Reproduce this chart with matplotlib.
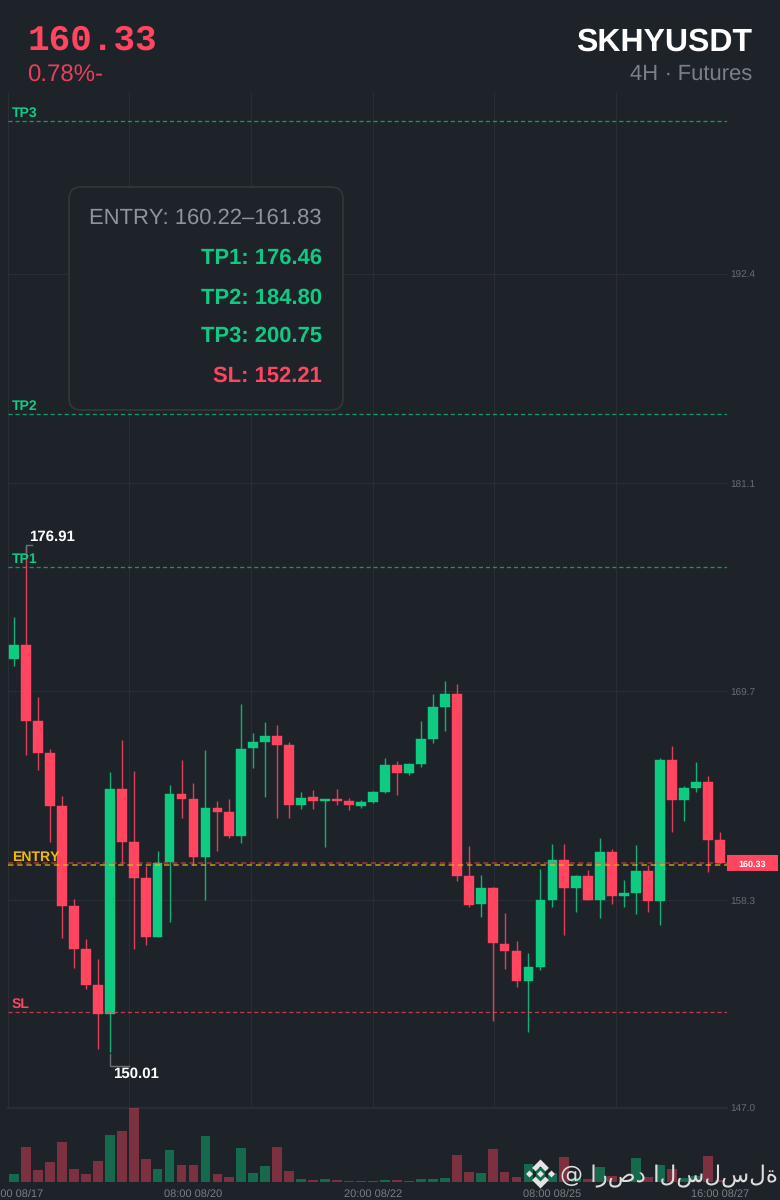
import matplotlib
matplotlib.use("Agg")
import matplotlib.pyplot as plt
from matplotlib.patches import FancyBboxPatch, Polygon, Rectangle

plt.rcParams['font.family'] = ['Liberation Sans', 'DejaVu Sans']
plt.rcParams['text.hinting'] = 'no_hinting'
plt.rcParams['text.hinting_factor'] = 1

# ---------- data ----------
opens = [171.44,172.20,168.07,166.32,163.44,158.00,155.66,153.70,152.12,164.37,
         161.48,159.52,156.31,160.39,164.09,163.82,160.66,163.33,163.11,161.81,
         166.60,166.92,167.25,166.76,163.49,163.93,163.71,163.82,163.71,163.44,
         163.66,164.20,165.67,165.24,165.73,167.09,168.83,169.54,159.63,158.10,
         158.98,155.93,155.55,153.91,154.68,158.32,160.50,158.98,159.63,158.32,
         160.94,158.54,158.70,159.90,158.27,165.94,163.77,164.42,164.75,161.59]
highs = [173.73,177.65,169.37,166.54,163.98,158.38,156.20,155.11,165.29,167.03,
         165.35,160.17,160.99,164.58,165.94,164.69,166.49,163.71,163.82,168.99,
         167.41,168.01,167.85,166.92,164.20,164.31,163.82,164.37,163.88,163.77,
         164.26,166.05,165.89,165.78,168.07,169.54,170.24,170.08,161.26,159.68,
         159.03,157.62,156.09,155.44,160.01,161.37,161.37,159.68,159.96,161.70,
         161.10,159.41,161.32,160.23,166.05,166.71,164.53,165.84,165.07,162.02]
lows = [171.06,166.22,165.40,161.48,156.25,154.62,153.48,150.21,150.05,160.34,
        155.66,155.87,156.31,157.13,162.79,160.23,158.32,160.99,161.70,161.43,
        165.51,163.93,162.79,162.79,163.28,163.28,161.21,163.49,163.22,163.33,
        163.60,164.15,164.04,165.13,165.56,166.87,167.52,159.36,157.94,157.40,
        151.74,154.57,153.59,151.14,154.51,157.94,156.42,157.67,158.32,157.34,
        158.10,157.94,157.56,157.67,156.96,162.02,162.62,164.20,159.85,160.33]
closes = [172.20,168.07,166.32,163.44,158.00,155.66,153.70,152.12,164.37,161.48,
          159.52,156.31,160.34,164.09,163.82,160.66,163.33,163.11,161.81,166.54,
          166.92,167.25,166.76,163.49,163.88,163.71,163.82,163.71,163.49,163.66,
          164.20,165.67,165.24,165.73,167.09,168.83,169.54,159.63,158.05,158.98,
          155.98,155.55,153.91,154.68,158.32,160.50,158.98,159.63,158.32,160.94,
          158.54,158.70,159.90,158.27,165.94,163.77,164.42,164.75,161.59,160.33]
volumes = [8,35,12,20,40,13,8,21,47,51,74,23,13,32,17,17,46,8,5,34,9,
           16,35,11,3,2,3,2,1.5,0.8,1,2,2,1,3,3,4,27,10,9,33,10,5,18,14,9,25,
           4,3,15,6,2,24,5,17,13,4,6,26,2.5]

x_labels = ['00:00 08/17', '08:00 08/20', '20:00 08/22', '08:00 08/25', '16:00 08/27']
x_label_idx = [0, 15, 30, 45, 59]
grid_idx = [-0.5, 9.65, 19.8, 30, 40.15, 50.3]
grid_prices = [147.0, 158.35, 169.7, 181.05, 192.4]
grid_labels = ['147.0', '158.3', '169.7', '181.1', '192.4']

last_price = 160.33
levels = [('TP3', 200.75, '#0ecb81'), ('TP2', 184.80, '#0ecb81'),
          ('TP1', 176.46, '#0ecb81'), ('ENTRY', 160.22, '#f0b90b'),
          ('SL', 152.25, '#ff4560')]
tip_lines = [('ENTRY: 160.22\u2013161.83', '#8f949b', 'normal'),
             ('TP1: 176.46', '#0ecb81', 'bold'),
             ('TP2: 184.80', '#0ecb81', 'bold'),
             ('TP3: 200.75', '#0ecb81', 'bold'),
             ('SL: 152.21', '#ff4560', 'bold')]

# ---------- style ----------
W, H = 780, 1200
BG = '#1e2329'
GRID = '#2a2e34'
GREEN = '#0ecb81'
RED = '#ff4560'
PX = 0.72  # points per pixel at dpi 100

fig = plt.figure(figsize=(W / 100, H / 100), dpi=100, facecolor=BG)

def axes_px(x0, x1, y0, y1):
    return fig.add_axes([x0 / W, 1 - y1 / H, (x1 - x0) / W, (y1 - y0) / H])

XLIM = (-0.5014, 59.59)
ax = axes_px(8, 727, 92, 1108)
ax.set_xlim(*XLIM)
ax.set_ylim(147.0, 202.31)
ax.set_facecolor('none')
ax.axis('off')

vol = axes_px(8, 727, 1108, 1182)
vol.set_xlim(*XLIM)
vol.set_ylim(0, 74)
vol.set_facecolor('none')
vol.axis('off')

# grid
for g in grid_idx:
    ax.axvline(g, color=GRID, lw=PX * 1.1, zorder=1, clip_on=False)
for p in grid_prices:
    ax.axhline(p, color=GRID, lw=PX * (2 if p == 147.0 else 1.1), zorder=1, clip_on=False)

# candles
idx = list(range(len(opens)))
colors = [GREEN if c >= o else RED for o, c in zip(opens, closes)]
ax.vlines(idx, lows, highs, colors=colors, lw=PX * 1.4, alpha=0.85, zorder=3)
ax.bar(idx, [abs(c - o) for o, c in zip(opens, closes)],
       bottom=[min(o, c) for o, c in zip(opens, closes)],
       width=0.82, color=colors, edgecolor=colors, linewidth=0.3, zorder=4)

# volume
vol.bar(idx, volumes, width=0.82, color=colors, alpha=0.42, linewidth=0)

# level lines
for name, price, col in levels:
    thick = 1.7 if name == 'ENTRY' else 1.3
    ax.axhline(price, color=col, lw=PX * thick, ls=(0, (3.2, 2.2)),
               alpha=0.7, zorder=5)
    ax.annotate(name, xy=(XLIM[0], price), xytext=(4 * PX, 4 * PX),
                textcoords='offset points', color=col, fontsize=14 * PX,
                fontweight='bold', ha='left', va='baseline', zorder=6)
ax.axhline(last_price, color=RED, lw=PX * 1.6, ls=(0, (3.2, 2.2)), alpha=0.55, zorder=5)

# high / low markers
hi_i = highs.index(max(highs))
lo_i = lows.index(min(lows))
px_x, px_y = 1 / 11.966, 1 / 18.37
ax.plot([hi_i, hi_i, hi_i + 6 * px_x],
        [highs[hi_i] - 7 * px_y, highs[hi_i], highs[hi_i]],
        color='#6b7076', lw=PX * 1.4, zorder=6, solid_joinstyle='miter')
ax.plot([lo_i, lo_i, lo_i + 19 * px_x],
        [lows[lo_i] - 2 * px_y, lows[lo_i] - 14 * px_y, lows[lo_i] - 14 * px_y],
        color='#6b7076', lw=PX * 1.4, zorder=6, solid_joinstyle='miter')
ax.annotate('176.91', xy=(hi_i, highs[hi_i]), xytext=(3.5 * PX, 4 * PX),
            textcoords='offset points', color='white', fontsize=15 * PX,
            fontweight='bold', ha='left', va='baseline', zorder=7)
ax.annotate('150.01', xy=(lo_i, lows[lo_i]), xytext=(3.5 * PX, -26 * PX),
            textcoords='offset points', color='white', fontsize=15 * PX,
            fontweight='bold', ha='left', va='baseline', zorder=7)

# ---------- overlay in pixel coordinates ----------
ov = fig.add_axes([0, 0, 1, 1])
ov.set_xlim(0, W)
ov.set_ylim(H, 0)
ov.set_facecolor('none')
ov.axis('off')

def label(x, y, s, size, color, ha='left', weight='normal', **kw):
    return ov.text(x, y, s, fontsize=size * PX, color=color, ha=ha, va='baseline',
                   fontweight=weight, **kw)

# header
label(28, 49.5, f'{last_price:.2f}', 36, RED, weight='bold', family='Liberation Mono')
label(27.5, 82, '0.78%-', 24, '#e8405a')
label(752, 51, 'SKHYUSDT', 32, 'white', ha='right', weight='bold')
label(752, 80, '4H \u00b7 Futures', 22, '#7b8087', ha='right')

# tooltip box
ov.add_patch(FancyBboxPatch((79, 197), 254, 203,
                            boxstyle='round,pad=10,rounding_size=12',
                            fc=BG, ec='#303338', lw=PX * 2, zorder=8))
for (s, c, w), y in zip(tip_lines, [223.5, 264, 303.5, 341.5, 381.5]):
    t = label(322, y, s, 22, c, ha='right', weight=w)
    t.set_zorder(9)

# price axis
for s, y in zip(grid_labels, [1112, 904.7, 696, 488, 278]):
    label(730, y, s, 10, '#666c75')
ov.add_patch(Rectangle((727, 855), 51, 16, fc=RED, ec='none', zorder=8))
label(752.5, 866.7, f'{last_price:.2f}', 9, 'white', ha='center', weight='bold').set_zorder(9)

# time axis
for s, i in zip(x_labels, x_label_idx):
    label(14 + 11.966 * i, 1198, s, 11, '#787e86', ha='center')

# watermark
logo_c, logo_s = (540.5, 1174), 14.5
shapes = [
    [(0, -1), (.58, -.42), (.34, -.18), (0, -.52), (-.34, -.18), (-.58, -.42)],
    [(0, 1), (.58, .42), (.34, .18), (0, .52), (-.34, .18), (-.58, .42)],
    [(0, -.24), (.24, 0), (0, .24), (-.24, 0)],
    [(.76, -.24), (1.0, 0), (.76, .24), (.52, 0)],
    [(-.76, -.24), (-1.0, 0), (-.76, .24), (-.52, 0)],
]
for sh in shapes:
    ov.add_patch(Polygon([(logo_c[0] + a * logo_s, logo_c[1] + b * logo_s) for a, b in sh],
                         closed=True, fc='#e4e4e4', ec='none', zorder=10))
label(560, 1182, '@ \u0627\u0631\u0635\u062f \u0627\u0644\u0633\u0644\u0633\u0644\u0629', 22.7,
      '#dedede', family='DejaVu Sans').set_zorder(10)

fig.savefig('out.png', dpi=100, facecolor=BG)
